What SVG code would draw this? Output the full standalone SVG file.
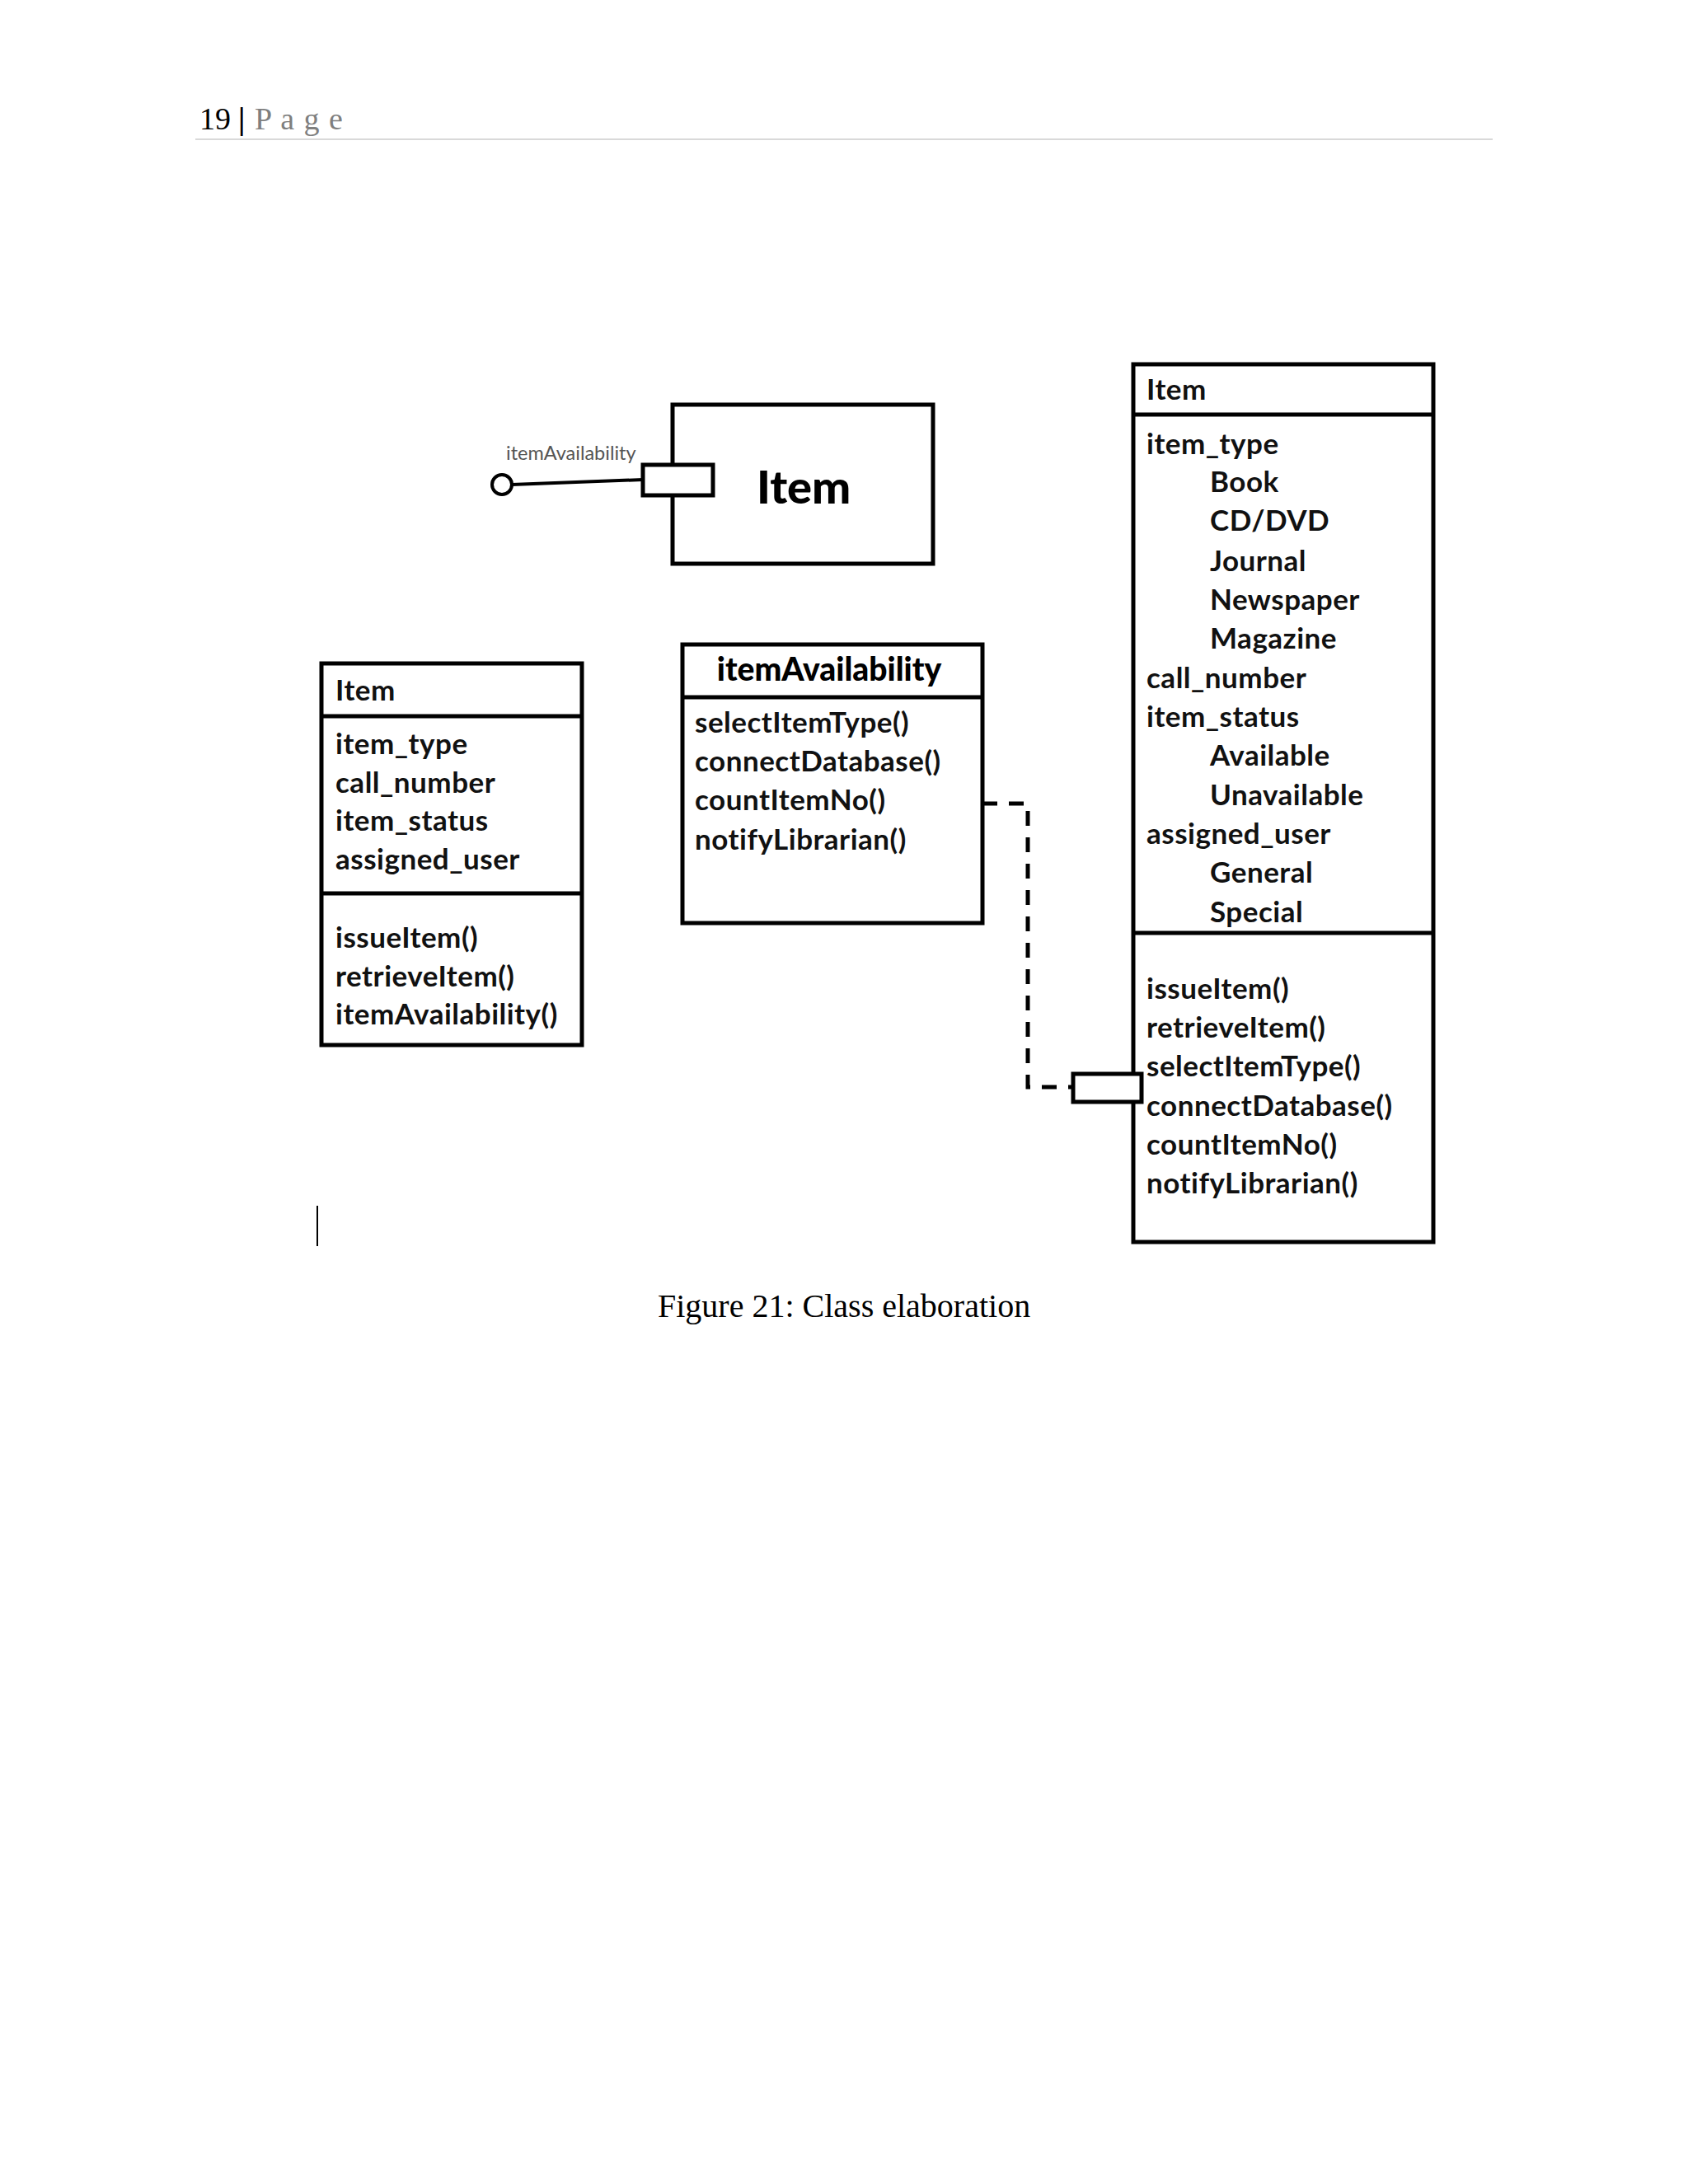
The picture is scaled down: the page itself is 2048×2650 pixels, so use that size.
<svg xmlns="http://www.w3.org/2000/svg" width="2048" height="2650" viewBox="0 0 2048 2650">
<style>
.box{fill:#fff;stroke:#000;stroke-width:5}
.div{stroke:#000;stroke-width:5}
.t{font-family:Lato,"Open Sans",sans-serif;font-size:35px;font-weight:bold;letter-spacing:0.5px;fill:#111}
.ts{font-family:Lato,"Open Sans",sans-serif;font-size:35px;font-weight:bold;letter-spacing:0.5px;fill:#111}
.hdr{font-family:"Liberation Serif",serif;font-size:38px}
.dash{fill:none;stroke:#000;stroke-width:5;stroke-dasharray:18 14}
</style>
<rect width="2048" height="2650" fill="#fff"/>
<g id="page-header">
<text class="hdr" x="242" y="157" fill="#000">19</text>
<text class="hdr" x="289" y="157" fill="#000" font-weight="bold">|</text>
<text class="hdr" x="309" y="157" fill="#7f7f7f" letter-spacing="1">P a g e</text>
<line x1="237" y1="169" x2="1811" y2="169" stroke="#d9d9d9" stroke-width="2"/>
</g>
<g id="component-item">
<rect class="box" x="816" y="491" width="316" height="193"/>
<text x="918" y="611" font-family="Lato,'Open Sans',sans-serif" font-size="56" font-weight="900">Item</text>
<rect class="box" x="780" y="564" width="85" height="37"/>
</g>
<g id="interface-itemAvailability">
<circle cx="609" cy="588" r="12" fill="#fff" stroke="#000" stroke-width="4"/>
<text x="614" y="558" font-family="Lato,'Open Sans',sans-serif" font-size="23.5" fill="#555">itemAvailability</text>
</g>
<g id="class-item-simple">
<rect class="box" x="390" y="805" width="316" height="463"/>
<line class="div" x1="390" y1="869" x2="706" y2="869"/>
<line class="div" x1="390" y1="1084" x2="706" y2="1084"/>
<text class="t" x="407" y="850">Item</text>
<text class="t" x="407" y="915">item_type</text>
<text class="t" x="407" y="962">call_number</text>
<text class="t" x="407" y="1008">item_status</text>
<text class="t" x="407" y="1055">assigned_user</text>
<text class="t" x="407" y="1150">issueItem()</text>
<text class="t" x="407" y="1197">retrieveItem()</text>
<text class="t" x="407" y="1243">itemAvailability()</text>
</g>
<g id="class-itemAvailability">
<rect class="box" x="828" y="782" width="364" height="338"/>
<line class="div" x1="828" y1="846" x2="1192" y2="846"/>
<text x="1006" y="826" text-anchor="middle" font-family="Lato,'Open Sans',sans-serif" font-size="39" font-weight="900">itemAvailability</text>
<text class="t" x="843" y="889">selectItemType()</text>
<text class="t" x="843" y="936">connectDatabase()</text>
<text class="t" x="843" y="983">countItemNo()</text>
<text class="t" x="843" y="1031">notifyLibrarian()</text>
</g>
<g id="class-item-detailed">
<rect class="box" x="1375" y="442" width="364" height="1065"/>
<line class="div" x1="1375" y1="503" x2="1739" y2="503"/>
<line class="div" x1="1375" y1="1132" x2="1739" y2="1132"/>
<text class="ts" x="1391" y="485">Item</text>
<text class="ts" x="1391" y="551">item_type</text>
<text class="ts" x="1468" y="597">Book</text>
<text class="ts" x="1468" y="644">CD/DVD</text>
<text class="ts" x="1468" y="693">Journal</text>
<text class="ts" x="1468" y="740">Newspaper</text>
<text class="ts" x="1468" y="787">Magazine</text>
<text class="ts" x="1391" y="835">call_number</text>
<text class="ts" x="1391" y="882">item_status</text>
<text class="ts" x="1468" y="929">Available</text>
<text class="ts" x="1468" y="977">Unavailable</text>
<text class="ts" x="1391" y="1024">assigned_user</text>
<text class="ts" x="1468" y="1071">General</text>
<text class="ts" x="1468" y="1119">Special</text>
<text class="ts" x="1391" y="1212">issueItem()</text>
<text class="ts" x="1391" y="1259">retrieveItem()</text>
<text class="ts" x="1391" y="1306">selectItemType()</text>
<text class="ts" x="1391" y="1354">connectDatabase()</text>
<text class="ts" x="1391" y="1401">countItemNo()</text>
<text class="ts" x="1391" y="1448">notifyLibrarian()</text>
<rect class="box" x="1302" y="1303" width="83" height="34"/>
</g>
<g id="connectors">
<line x1="621" y1="588" x2="780" y2="582" stroke="#000" stroke-width="4"/>
<path class="dash" d="M1192 975 H1247 V1319 H1302"/>
</g>
<g id="caption">
<line x1="385" y1="1463" x2="385" y2="1512" stroke="#000" stroke-width="2"/>
<text x="798" y="1598" font-family="'Liberation Serif',serif" font-size="40">Figure 21: Class elaboration</text>
</g>
</svg>
